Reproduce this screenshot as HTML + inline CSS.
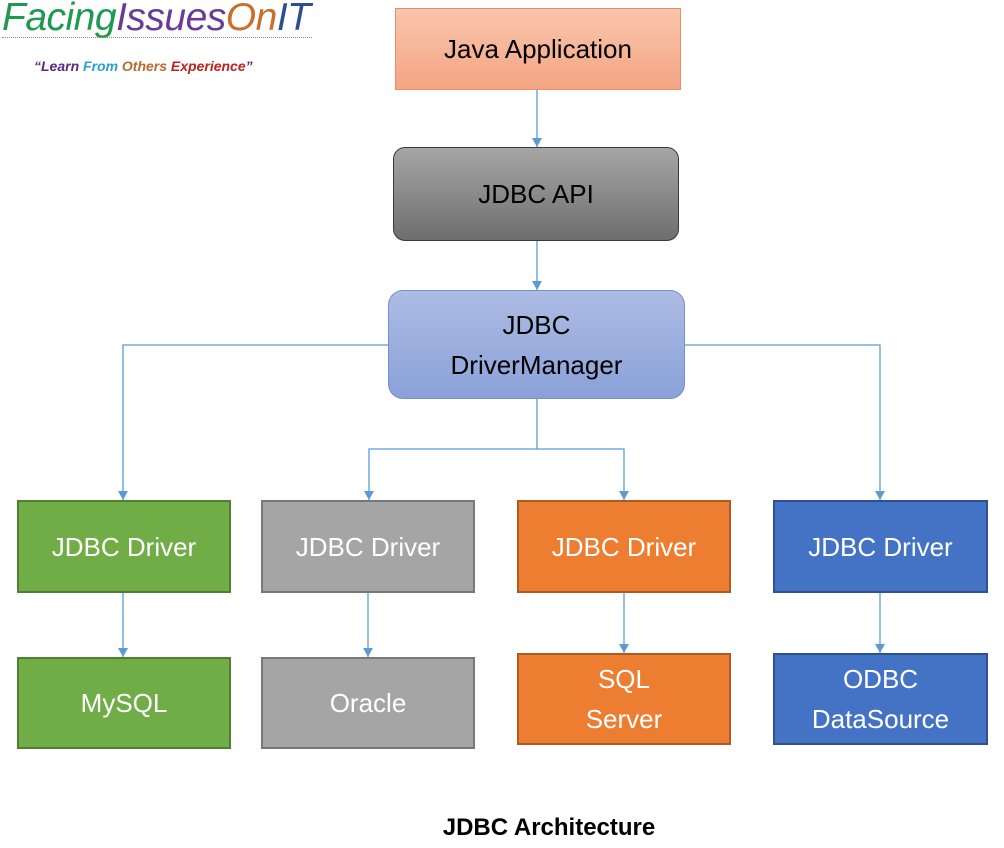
<!DOCTYPE html>
<html><head><meta charset="utf-8"><style>
body{margin:0;width:1004px;height:848px;background:#fff;position:relative;overflow:hidden;font-family:"Liberation Sans",sans-serif}
.b{position:absolute;box-sizing:border-box;display:flex;align-items:center;justify-content:center;text-align:center;font-size:26px;line-height:40px}
.w{color:#fff}
.g{background:#70ad47;border:2px solid #507e32}
.y{background:#a5a5a5;border:2px solid #787878}
.o{background:#ed7d31;border:2px solid #ae5a21}
.u{background:#4472c4;border:2px solid #2f528f}
</style></head><body>
<div style="position:absolute;left:2px;top:-4px;font-size:39px;font-style:italic;letter-spacing:-0.5px"><span style="color:#1e9a50">Facing</span><span style="color:#6a3a96">Issues</span><span style="color:#c8702a">On</span><span style="color:#2e4f8f">IT</span></div>
<div style="position:absolute;left:2px;top:37px;width:310px;border-top:1px dotted #b08080"></div>
<div style="position:absolute;left:34px;top:58px;font-size:14px;font-weight:bold;font-style:italic"><span style="color:#5a2a80">“Learn </span><span style="color:#2aa0d0">From </span><span style="color:#b86a30">Others </span><span style="color:#c02020">Experience</span><span style="color:#5a2a80">”</span></div>

<div class="b" style="left:395px;top:8px;width:286px;height:82px;background:linear-gradient(#f9c6ad,#f4a582);border:1px solid #e3906a">Java Application</div>
<div class="b" style="left:393px;top:147px;width:286px;height:94px;border-radius:12px;background:linear-gradient(#a6a6a6,#6e6e6e);border:1px solid #3a3a3a">JDBC API</div>
<div class="b" style="left:388px;top:290px;width:297px;height:109px;border-radius:15px;background:linear-gradient(#adbce3,#8aa1d9);border:1px solid #7391c9">JDBC<br>DriverManager</div>

<div class="b w g" style="left:17px;top:500px;width:214px;height:93px">JDBC Driver</div>
<div class="b w y" style="left:261px;top:500px;width:214px;height:93px">JDBC Driver</div>
<div class="b w o" style="left:517px;top:500px;width:214px;height:93px">JDBC Driver</div>
<div class="b w u" style="left:773px;top:500px;width:215px;height:93px">JDBC Driver</div>

<div class="b w g" style="left:17px;top:657px;width:214px;height:92px">MySQL</div>
<div class="b w y" style="left:261px;top:657px;width:214px;height:92px">Oracle</div>
<div class="b w o" style="left:517px;top:653px;width:214px;height:92px">SQL<br>Server</div>
<div class="b w u" style="left:773px;top:653px;width:215px;height:92px">ODBC<br>DataSource</div>

<svg width="1004" height="848" style="position:absolute;left:0;top:0">
<defs><marker id="a" markerWidth="10" markerHeight="10" refX="5" refY="9" orient="0" markerUnits="userSpaceOnUse"><path d="M0,0 L10,0 L5,9 Z" fill="#5b9bd5"/></marker></defs>
<g stroke="#5b9bd5" stroke-width="1.3" fill="none">
<path d="M537,90 V147" marker-end="url(#a)"/>
<path d="M537,241 V290" marker-end="url(#a)"/>
<path d="M388,345 H123 V500" marker-end="url(#a)"/>
<path d="M685,345 H880 V500" marker-end="url(#a)"/>
<path d="M537,399 V449"/>
<path d="M537,449 H369 V500" marker-end="url(#a)"/>
<path d="M537,449 H624 V500" marker-end="url(#a)"/>
<path d="M123,593 V657" marker-end="url(#a)"/>
<path d="M368,593 V657" marker-end="url(#a)"/>
<path d="M624,593 V653" marker-end="url(#a)"/>
<path d="M880,593 V653" marker-end="url(#a)"/>
</g></svg>

<div style="position:absolute;left:0;width:1098px;top:814px;text-align:center;font-size:24px;font-weight:bold">JDBC Architecture</div>
</body></html>
